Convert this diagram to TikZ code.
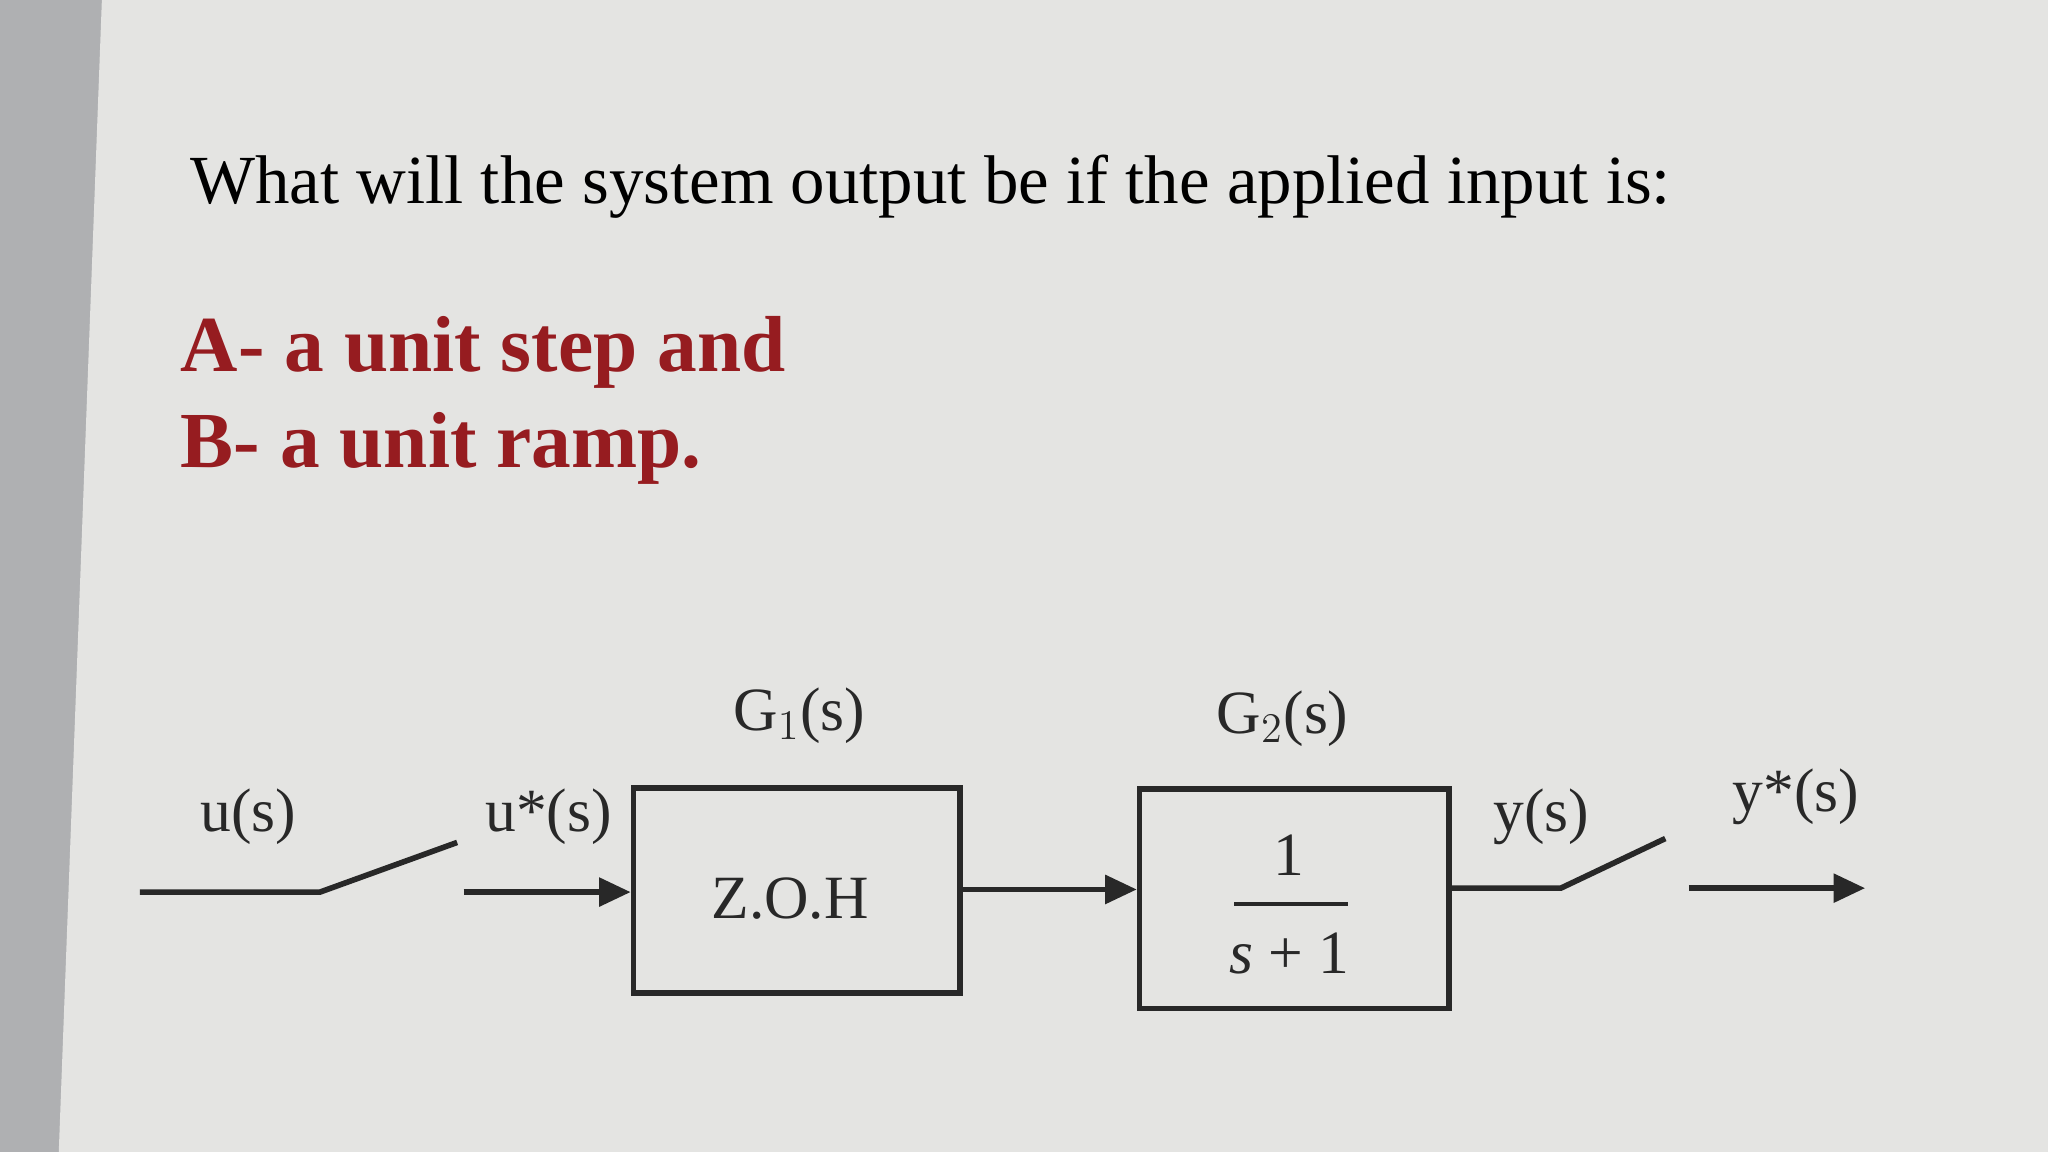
\documentclass[tikz,border=0pt]{standalone}
\usepackage{fontspec}
\setmainfont{Liberation Serif}
\usetikzlibrary{arrows.meta}
\definecolor{paper}{RGB}{228,228,226}
\definecolor{edge}{RGB}{175,176,178}
\definecolor{qred}{RGB}{150,28,32}
\definecolor{ink}{RGB}{40,40,40}
\begin{document}
\begin{tikzpicture}[x=0.01306cm,y=-0.01306cm,
  blk/.style={draw=ink,line width=1.6pt,minimum width=#1,inner sep=0pt},
  lbl/.style={text=ink,font=\fontsize{17.5}{20}\selectfont,inner sep=0pt},
  wire/.style={draw=ink,line width=1.6pt},
  arr/.style={wire,-{Triangle[length=9pt,width=8pt]}}]
\useasboundingbox (0,0) rectangle (1568,882);
\fill[edge] (0,0) rectangle (1568,882);
\fill[paper] (78,0) -- (1568,0) -- (1568,882) -- (45,882) -- cycle;
\node[anchor=west,text=black,font=\fontsize{19.6}{23}\selectfont,inner sep=0pt] (q) at (145,143) {What will the system output be if the applied input is:};
\node[anchor=west,text=qred,font=\fontsize{22.6}{26}\selectfont\bfseries,inner sep=0pt] (a) at (138,270) {A- a unit step and};
\node[anchor=west,text=qred,font=\fontsize{22.6}{26}\selectfont\bfseries,inner sep=0pt] (b) at (138,343) {B- a unit ramp.};
% boxes
\node[blk=250*0.01306cm,minimum height=157*0.01306cm] (zoh) at (610,682) {};
\node[lbl] (zohl) at (605,688) {Z.O.H};
\node[blk=237*0.01306cm,minimum height=168*0.01306cm] (g2) at (991,688) {};
\node[lbl] (num) at (987,655) {1};
\node[lbl] (den) at (987,730) {\textit{s} + 1};
\coordinate (fl) at (945,692);
\coordinate (fr) at (1032,692);
\draw[ink,line width=1.3pt] (fl) -- (fr);
\node[lbl] (g1l) at (612,548) {G$_1$(s)};
\node[lbl] (g2l) at (982,550) {G$_2$(s)};
\node[lbl] (ul) at (190,625) {u(s)};
\node[lbl] (usl) at (420,625) {u*(s)};
\node[lbl] (yl) at (1180,625) {y(s)};
\node[lbl] (ysl) at (1375,610) {y*(s)};
% input switch
\coordinate (in0) at (107,683);
\coordinate (sw1) at (245,683);
\coordinate (sw1e) at (350,645);
\coordinate (s1o) at (355,683);
\draw[wire] (in0) -- (sw1) -- (sw1e);
\draw[arr] (s1o) -- (zoh.west |- s1o);
\draw[arr] (zoh.east |- 0,681) -- (g2.west |- 0,681);
\coordinate (sw2) at (1195,680);
\coordinate (sw2e) at (1275,642);
\coordinate (o0) at (1293,680);
\coordinate (o1) at (1428,680);
\draw[wire] (g2.east |- sw2) -- (sw2) -- (sw2e);
\draw[arr] (o0) -- (o1);
\end{tikzpicture}
\end{document}
